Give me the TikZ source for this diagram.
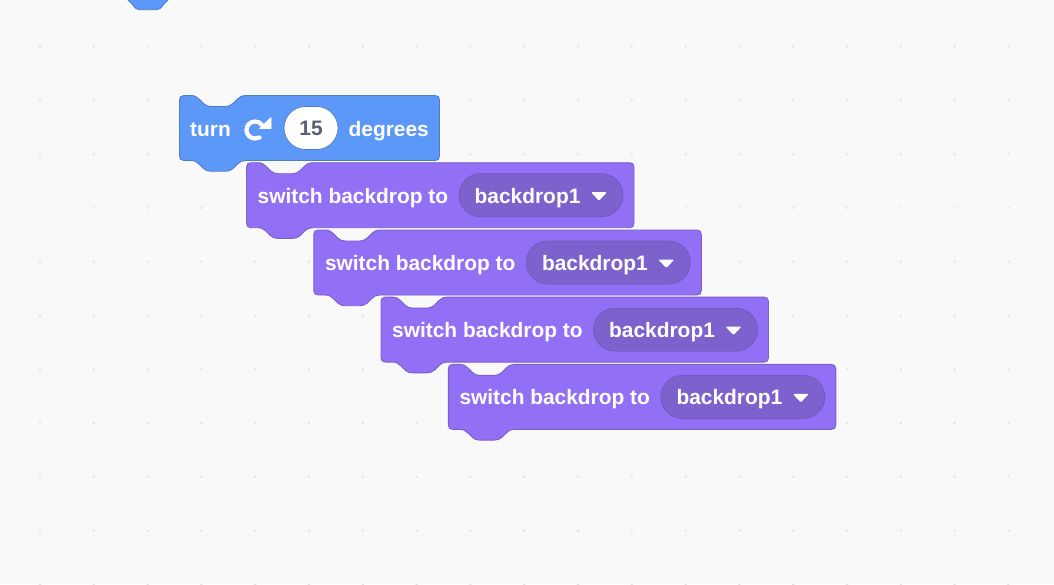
\documentclass[tikz,border=0pt]{standalone}
\usepackage{fontspec}
\setmainfont[BoldFont={Liberation Sans Bold}]{Liberation Sans}
\definecolor{bgc}{HTML}{F9F9F9}
\definecolor{dotc}{HTML}{E2E2E2}
\definecolor{bluef}{HTML}{5C98F8}
\definecolor{blued}{HTML}{4C7EC8}
\definecolor{purf}{HTML}{9170F5}
\definecolor{purd}{HTML}{7B5FCC}
\definecolor{pillf}{HTML}{7D62CD}
\definecolor{pilld}{HTML}{7157BE}
\definecolor{numc}{HTML}{575E75}
\tikzset{
  blockshape/.style={line width=0.9pt,line join=round},
  blockblue/.style={blockshape,fill=bluef,draw=blued},
  blockpurple/.style={blockshape,fill=purf,draw=purd},
  lbl/.style={text=white,font=\fontsize{20.9}{24}\selectfont\bfseries,inner sep=0pt,anchor=base west},
  griddot/.style={fill=dotc,draw=none},
}
\newcommand{\blockpath}[4]{% style,x,y,w
  \begin{scope}[shift={(#2,#3)}]
  \path[#1] (0,4.5) .. controls (0,1.5) and (1.5,0) .. (4.5,0) -- (11,0)
    .. controls (15,0) and (17,1) .. (19.5,3.5) -- (24,8) .. controls (26,10) and (28.5,11) .. (31.5,11) -- (46,11)
    .. controls (49,11) and (51,10) .. (53.5,8) -- (58,3.5) .. controls (60.5,1) and (62.5,0) .. (66,0)
    -- (#4-4.5,0) .. controls (#4-1.5,0) and (#4,1.5) .. (#4,4.5)
    -- (#4,60.5) .. controls (#4,63.5) and (#4-1.5,65) .. (#4-4.5,65)
    -- (66,65) .. controls (62.5,65) and (60.5,66) .. (58,68.5) -- (53.5,73) .. controls (51,75) and (49,75.7) .. (46,75.7)
    -- (31.5,75.7) .. controls (28.5,75.7) and (26,75) .. (24,73) -- (19.5,68.5) .. controls (17,66) and (15,65) .. (11,65)
    -- (4.5,65) .. controls (1.5,65) and (0,63.5) .. (0,60.5) -- cycle;
  \end{scope}}
\begin{document}
\begin{tikzpicture}[x=1pt,y=-1pt]
\useasboundingbox (0,0) rectangle (1054,584);
\fill[bgc] (0,0) rectangle (1054,584);
\foreach \i in {0,...,18}{\foreach \j in {0,...,10}{
  \fill[griddot] ({40+53.8*\i},{46.5+53.8*\j}) circle (1.3);}}
% partial block at top
\path[blockblue] (125,-3) -- (133,5) .. controls (135,8.5) and (137,9.7) .. (140,9.7) -- (156,9.7) .. controls (159,9.7) and (161,8.5) .. (163,5) -- (171,-3) -- cycle;
% turn block
\blockpath{blockblue}{179.5}{95.5}{260}
\node[lbl] (turn) at (190,136) {turn};
% icon
\draw[white,line width=4.2pt,line cap=round] (262,125) .. controls (260,122.5) and (258,121.5) .. (255,121.5) .. controls (250.3,121.5) and (246.5,125.3) .. (246.5,130) .. controls (246.5,134.7) and (250.3,138.5) .. (255,138.5) .. controls (256.5,138.5) and (258,138.2) .. (259.5,137.5);
\fill[white,line join=round,draw=white,line width=0.6pt] (271,117.5) -- (271,128.5) -- (259.5,128.5) -- cycle;
\node[fill=white,draw=blued,line width=0.7pt,minimum width=54pt,minimum height=43pt,inner sep=0pt,text=numc,font=\fontsize{20.9}{24}\selectfont\bfseries,rounded corners=21.5pt] (num) at (311,128) {15};
\node[lbl] (deg) at (348.5,136) {degrees};
% purple blocks
\foreach \bx/\by/\bn in {246.5/162.7/a,313.8/230/b,381/297.1/c,448.3/364.4/d}{
  \blockpath{blockpurple}{\bx}{\by}{387.5}
  \node[lbl] (sw\bn) at (\bx+11,\by+40.4) {switch backdrop to};
  \node[fill=pillf,draw=pilld,line width=0.7pt,rounded corners=21.5pt,minimum width=164pt,minimum height=43pt,inner sep=0pt] (pill\bn) at (\bx+294.5,\by+32.5) {};
  \node[lbl] (bd\bn) at (\bx+228,\by+40.4) {backdrop1};
  \fill[white,rounded corners=1.2pt] (\bx+344.5,\by+29.5) -- (\bx+360.5,\by+29.5) -- (\bx+352.5,\by+38) -- cycle;
}
\end{tikzpicture}
\end{document}
